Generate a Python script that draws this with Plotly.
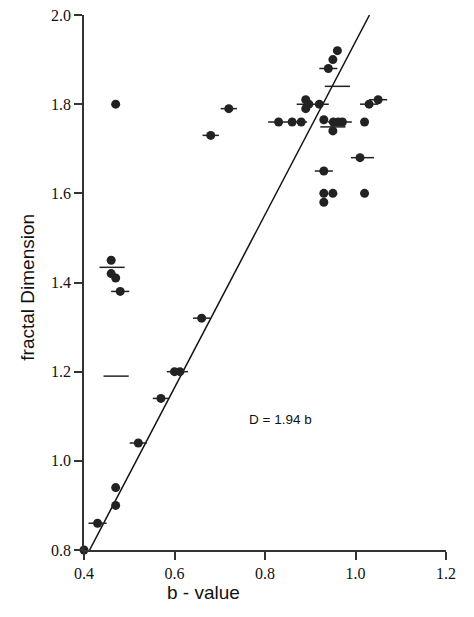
import numpy as np
import plotly.graph_objects as go

# ---- data ----
b_vals = [0.40, 0.43, 0.47, 0.47, 0.52, 0.57, 0.60, 0.612, 0.66, 0.48,
          0.46, 0.46, 0.47, 0.47, 0.68, 0.72, 0.96, 0.95, 0.94, 0.89,
          0.897, 0.89, 0.92, 1.03, 1.05, 0.83, 0.86, 0.88, 0.93, 0.951,
          0.962, 0.971, 1.02, 0.95, 1.01, 0.93, 0.93, 0.95, 1.02, 0.93]
D_vals = [0.80, 0.86, 0.94, 0.90, 1.04, 1.14, 1.20, 1.20, 1.32, 1.38,
          1.45, 1.42, 1.41, 1.80, 1.73, 1.79, 1.92, 1.90, 1.88, 1.81,
          1.80, 1.79, 1.80, 1.80, 1.81, 1.76, 1.76, 1.76, 1.765, 1.76,
          1.76, 1.76, 1.76, 1.74, 1.68, 1.65, 1.60, 1.60, 1.60, 1.58]
err_plus = [0, 0.02, 0, 0, 0.019, 0.018, 0.03, 0, 0.019, 0.02,
            0, 0, 0, 0, 0.018, 0.018, 0, 0, 0.02, 0,
            0, 0, 0.021, 0.02, 0.02, 0, 0.033, 0, 0, 0,
            0.03, 0, 0, 0, 0.031, 0.02, 0, 0, 0, 0]
err_minus = [0, 0.02, 0, 0, 0.019, 0.018, 0.017, 0, 0.019, 0.02,
             0, 0, 0, 0, 0.018, 0.018, 0, 0, 0.02, 0,
             0, 0, 0.05, 0.02, 0.02, 0, 0.053, 0, 0, 0,
             0.023, 0, 0, 0, 0.02, 0.02, 0, 0, 0, 0]

# standalone error-bar dashes (no point)
dash_b = [0.462, 0.471, 0.96, 0.95]
dash_D = [1.434, 1.19, 1.84, 1.749]

slope = 1.94
x_ticks = [0.4, 0.6, 0.8, 1.0, 1.2]
y_ticks = [0.8, 1.0, 1.2, 1.4, 1.6, 1.8, 2.0]

fig = go.Figure()

# regression line D = 1.94 b
line_x = np.array([0.8 / slope, 2.0 / slope])
fig.add_trace(go.Scatter(x=line_x, y=slope * line_x, mode="lines",
                         line=dict(color="#111", width=1.5),
                         hoverinfo="skip", showlegend=False))

# dashes
fig.add_trace(go.Scatter(x=dash_b, y=dash_D, mode="markers",
                         marker=dict(symbol="line-ew", size=18,
                                     line=dict(color="#222", width=1.5)),
                         showlegend=False, cliponaxis=False))

# points with horizontal error bars
fig.add_trace(go.Scatter(
    x=b_vals, y=D_vals, mode="markers",
    marker=dict(size=9, color="#222"),
    error_x=dict(type="data", symmetric=False, array=err_plus,
                 arrayminus=err_minus, width=0, thickness=1.5, color="#222"),
    showlegend=False, cliponaxis=False))

serif = "'Liberation Serif', 'Times New Roman', 'DejaVu Serif', serif"
sans = "'Liberation Sans', Arial, Helvetica, sans-serif"

axis_common = dict(showgrid=False, zeroline=False, showline=True,
                   linecolor="#333", linewidth=1.5, ticks="outside",
                   ticklen=8, tickwidth=1.5, tickcolor="#333",
                   ticklabeloverflow="allow",
                   tickfont=dict(family=serif, size=16, color="#111"))

fig.update_xaxes(range=[0.4, 1.2], tickvals=x_ticks,
                 ticktext=[f"{v:.1f}" for v in x_ticks], **axis_common)
fig.update_yaxes(range=[0.8, 2.0], tickvals=y_ticks,
                 ticktext=[f"{v:.1f}" for v in y_ticks], **axis_common)

fig.add_annotation(text="b - value", xref="x", x=0.665, yref="paper", y=-0.079,
                   xanchor="center", yanchor="middle", showarrow=False,
                   font=dict(family=sans, size=19, color="#111"))
fig.add_annotation(text="fractal Dimension", xref="paper", x=-0.155,
                   yref="paper", y=0.492, textangle=-90,
                   xanchor="center", yanchor="middle", showarrow=False,
                   font=dict(family=sans, size=19, color="#111"))
fig.add_annotation(text="D = 1.94 b", xref="x", x=0.835, yref="y", y=1.092,
                   xanchor="center", yanchor="middle", showarrow=False,
                   font=dict(family=sans, size=13.5, color="#111"))

fig.update_layout(width=474, height=617,
                  margin=dict(l=84, r=28, t=7, b=67),
                  paper_bgcolor="white", plot_bgcolor="white",
                  showlegend=False)

fig.write_html("out.html", config={"displayModeBar": False},
               post_script="document.body.style.margin='0';")
